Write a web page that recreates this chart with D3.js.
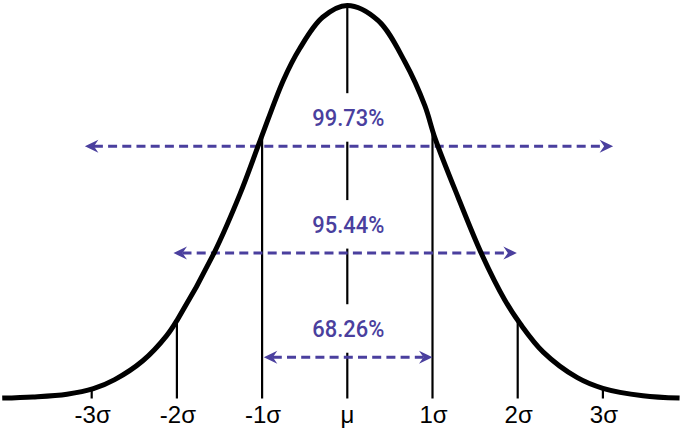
<!DOCTYPE html>
<html>
<head>
<meta charset="utf-8">
<script src="https://cdn.jsdelivr.net/npm/d3@7"></script>
<style>
  html, body { margin: 0; padding: 0; background: #fff; }
  svg { display: block; }
</style>
</head>
<body>
<svg id="chart" width="685" height="433"></svg>
<script>
// ---- data (x in sigma units, height relative to the peak) ----
const curveX = [-4.05, -3.69, -3.29, -2.98, -2.73, -2.40, -2.12, -1.99, -1.56, -1.26, -1.02, -0.75, -0.56, -0.29, 0,
                0.36, 0.68, 0.91, 1.03, 1.30, 1.58, 1.85, 2.03, 2.30, 2.70, 3.00, 3.47, 3.90];
const curveY = [0.001, 0.004, 0.011, 0.025, 0.048, 0.096, 0.160, 0.202, 0.372, 0.520, 0.658, 0.810, 0.890, 0.970, 1,
                0.962, 0.855, 0.745, 0.662, 0.512, 0.366, 0.250, 0.190, 0.118, 0.053, 0.026, 0.007, 0.001];
const tickValues = [-3, -2, -1, 0, 1, 2, 3];
const tickLabels = ["-3σ", "-2σ", "-1σ", "μ", "1σ", "2σ", "3σ"];
const rangeLabels = ["99.73%", "95.44%", "68.26%"];
const rangeFrom = [-3.08, -2.04, -0.98];
const rangeTo = [3.12, 1.99, 1.0];

(function () {
// ---- layout ----
const purple = "#4a3f9e";
const svg = d3.select("#chart");
const x = d3.scaleLinear().domain([0, 1]).range([347.3, 432.5]);
const y = d3.scaleLinear().domain([0, 1]).range([398.5, 5.5]);
const arrowLevels = [0.642, 0.370, 0.105]; // vertical placement of the arrows (fraction of peak)

const pts = curveX.map((v, i) => [v, curveY[i]]);
function heightAt(v) {
  for (let i = 1; i < pts.length; i++) {
    if (v <= pts[i][0]) {
      const [x0, y0] = pts[i - 1], [x1, y1] = pts[i];
      return y0 + (y1 - y0) * (v - x0) / (x1 - x0);
    }
  }
  return 0;
}

// vertical sigma lines (except mu)
tickValues.filter(t => t !== 0).forEach(t => {
  svg.append("line")
    .attr("x1", x(t)).attr("x2", x(t))
    .attr("y1", y(0)).attr("y2", y(heightAt(t)))
    .attr("stroke", "#000").attr("stroke-width", 2.2);
});

// mu line with gaps around labels
const arrowYs = arrowLevels.map(l => y(l));
const segs = [];
let segTop = y(1);
arrowYs.forEach(ay => {
  const labelBase = ay - 20;
  segs.push([segTop, labelBase - 33]);
  segTop = ay - 4.5;
});
segs.push([segTop, y(0)]);
segs.forEach(([a, b]) => {
  svg.append("line")
    .attr("x1", x(0)).attr("x2", x(0))
    .attr("y1", a).attr("y2", b)
    .attr("stroke", "#000").attr("stroke-width", 2.2);
});

// dashed double arrows + labels
rangeLabels.forEach((lab, i) => {
  const ay = arrowYs[i];
  const xa = x(rangeFrom[i]), xb = x(rangeTo[i]);
  svg.append("line")
    .attr("x1", xa + 9).attr("x2", xb - 9)
    .attr("y1", ay).attr("y2", ay)
    .attr("stroke", purple).attr("stroke-width", 3)
    .attr("stroke-dasharray", "9,5.2");
  [[xa, -1], [xb, 1]].forEach(([tx, dir]) => {
    svg.append("path")
      .attr("d", `M${tx},${ay} L${tx - dir * 13.5},${ay - 6.5} L${tx - dir * 9},${ay} L${tx - dir * 13.5},${ay + 6.5} Z`)
      .attr("fill", purple);
  });
  svg.append("text")
    .attr("x", x(0) + 1).attr("y", ay - 20)
    .attr("text-anchor", "middle")
    .attr("font-family", "Roboto, 'Liberation Sans', Arial, sans-serif")
    .attr("font-weight", 500)
    .attr("font-size", 23.5)
    .attr("textLength", 72).attr("lengthAdjust", "spacingAndGlyphs")
    .attr("fill", purple)
    .text(lab);
});

// the curve
svg.append("path")
  .datum(pts)
  .attr("d", d3.line().x(d => x(d[0])).y(d => y(d[1])).curve(d3.curveCatmullRom.alpha(0.5)))
  .attr("fill", "none")
  .attr("stroke", "#000")
  .attr("stroke-width", 5)
  .attr("stroke-linejoin", "round");

// tick labels
tickValues.forEach((t, i) => {
  svg.append("text")
    .attr("x", x(t) + (t === 0 ? 0 : 1)).attr("y", 423)
    .attr("text-anchor", "middle")
    .attr("font-family", "'Liberation Sans', Arial, sans-serif")
    .attr("font-size", 24)
    .attr("fill", "#000")
    .text(tickLabels[i]);
});
})();
</script>
</body>
</html>
